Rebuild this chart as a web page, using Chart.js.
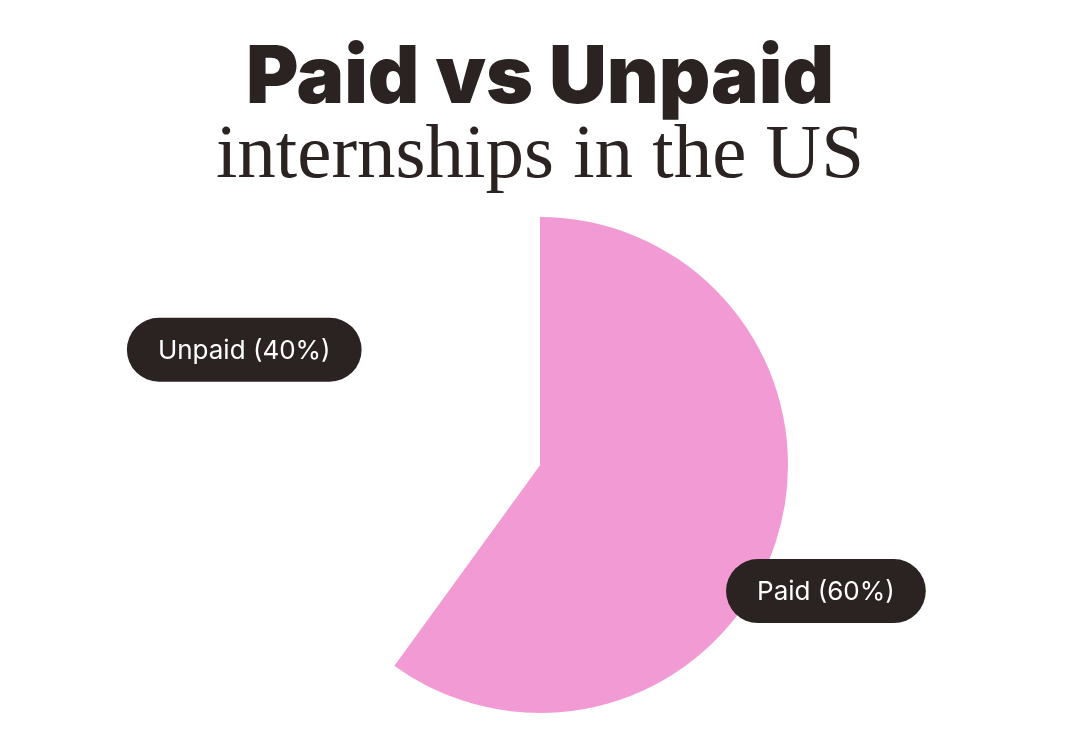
<!DOCTYPE html>
<html>
<head>
<meta charset="utf-8">
<script src="https://cdn.jsdelivr.net/npm/chart.js@4"></script>
<style>
  html, body { margin: 0; padding: 0; background: #ffffff; }
  #wrap { position: relative; width: 1080px; height: 743px; }
  #title { position: absolute; top: 34px; left: 0; width: 1080px; text-align: center; color: #2b2222; }
  #t1 { font-family: Inter, sans-serif; font-weight: 900; font-size: 80px; line-height: 80px; letter-spacing: 0px; }
  #t2 { font-family: "Liberation Serif", serif; font-size: 77px; line-height: 74px; }
  canvas { position: absolute; top: 0; left: 0; }
</style>
</head>
<body>
<div id="wrap">
  <canvas id="pie" width="1080" height="743"></canvas>
  <div id="title"><div id="t1">Paid vs Unpaid</div><div id="t2">internships in the US</div></div>
</div>
<script>
const labels = ['Paid', 'Unpaid'];
const values = [60, 40];
const colors = ['#f29ad3', '#ffffff'];

// 在扇区中线外侧绘制深色胶囊标签（角度略微偏移以贴合原图）
const pillLabels = {
    id: 'pillLabels',
    afterDatasetsDraw(chart) {
        const ctx = chart.ctx;
        const meta = chart.getDatasetMeta(0);
        const shift = [5.8, 3.3];
        const dist = [1.26, 1.28];
        ctx.save();
        ctx.font = '26px Inter, sans-serif';
        ctx.textAlign = 'center';
        ctx.textBaseline = 'middle';
        meta.data.forEach((arc, i) => {
            const mid = (arc.startAngle + arc.endAngle) / 2 + shift[i] * Math.PI / 180;
            const r = arc.outerRadius * dist[i];
            const x = arc.x + Math.cos(mid) * r;
            const y = arc.y + Math.sin(mid) * r;
            const text = `${labels[i]} (${values[i]}%)`;
            const w = ctx.measureText(text).width + 62;
            const h = 64;
            ctx.fillStyle = '#2b2222';
            ctx.beginPath();
            ctx.roundRect(x - w / 2, y - h / 2, w, h, h / 2);
            ctx.fill();
            ctx.fillStyle = '#ffffff';
            ctx.fillText(text, x, y + 1);
        });
        ctx.restore();
    }
};

new Chart(document.getElementById('pie'), {
    type: 'pie',
    data: {
        labels: labels,
        datasets: [{ data: values, backgroundColor: colors, borderWidth: 0 }]
    },
    options: {
        responsive: false,
        animation: false,
        layout: { padding: { top: 217, bottom: 30 } },
        plugins: { legend: { display: false }, tooltip: { enabled: false } }
    },
    plugins: [pillLabels]
});
</script>
</body>
</html>
